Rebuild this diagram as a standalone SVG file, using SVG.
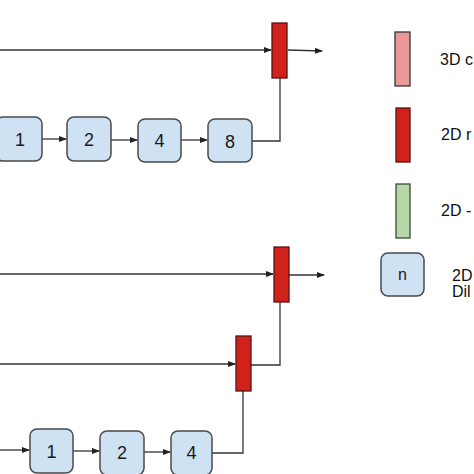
<svg xmlns="http://www.w3.org/2000/svg" width="474" height="474" viewBox="0 0 474 474">
<defs>
<marker id="ah" markerWidth="8" markerHeight="6" refX="7" refY="3" orient="auto" markerUnits="userSpaceOnUse">
<path d="M0,0 L8,3 L0,6 Z" fill="#222"/>
</marker>
<style>
.box{fill:#cfe2f3;stroke:#4a4a4a;stroke-width:1.5}
.red{fill:#d0221a;stroke:#5a1010;stroke-width:1.3}
.pink{fill:#ea9999;stroke:#333;stroke-width:1.3}
.green{fill:#b6d7a8;stroke:#3a4a3a;stroke-width:1.3}
.num{font-family:"Liberation Sans",Arial,sans-serif;font-size:18px;fill:#1a1a1a;text-anchor:middle}
.lbl{font-family:"Liberation Sans",Arial,sans-serif;font-size:16px;fill:#111}
.ln{fill:none;stroke:#333;stroke-width:1.3}
</style>
</defs>
<rect width="474" height="474" fill="#fff"/>
<g id="connectors">
<path class="ln" d="M0,50 L271,50" marker-end="url(#ah)"/>
<path class="ln" d="M288,50 L322,51" marker-end="url(#ah)"/>
<path class="ln" d="M42,139 L66,139" marker-end="url(#ah)"/>
<path class="ln" d="M111,140 L137,140" marker-end="url(#ah)"/>
<path class="ln" d="M181,140 L207,140" marker-end="url(#ah)"/>
<path class="ln" d="M252,141 L280,141 L280,78"/>
<path class="ln" d="M0,274 L273,274" marker-end="url(#ah)"/>
<path class="ln" d="M289,275 L324,275" marker-end="url(#ah)"/>
<path class="ln" d="M0,364 L235,364" marker-end="url(#ah)"/>
<path class="ln" d="M251,365 L280,365 L280,302"/>
<path class="ln" d="M0,450 L29,450" marker-end="url(#ah)"/>
<path class="ln" d="M73,451 L99,451" marker-end="url(#ah)"/>
<path class="ln" d="M144,452 L170,452" marker-end="url(#ah)"/>
<path class="ln" d="M212,453 L243,453 L243,391"/>
</g>
<g id="top-concat"><rect class="red" x="272" y="23" width="15" height="55"/></g>
<g id="top-b1"><rect class="box" x="-4" y="117" width="46" height="44" rx="7"/><text class="num" x="20" y="146">1</text></g>
<g id="top-b2"><rect class="box" x="67" y="117" width="44" height="44" rx="7"/><text class="num" x="89" y="146">2</text></g>
<g id="top-b4"><rect class="box" x="138" y="119" width="43" height="43" rx="7"/><text class="num" x="159.5" y="147">4</text></g>
<g id="top-b8"><rect class="box" x="208" y="119" width="44" height="43" rx="7"/><text class="num" x="230" y="148">8</text></g>
<g id="bot-concat1"><rect class="red" x="274" y="247" width="15" height="55"/></g>
<g id="bot-concat2"><rect class="red" x="236" y="336" width="15" height="55"/></g>
<g id="bot-b1"><rect class="box" x="30" y="429" width="43" height="44" rx="7"/><text class="num" x="51.5" y="458">1</text></g>
<g id="bot-b2"><rect class="box" x="100" y="431" width="44" height="44" rx="7"/><text class="num" x="122" y="459">2</text></g>
<g id="bot-b4"><rect class="box" x="171" y="431" width="41" height="44" rx="7"/><text class="num" x="191.5" y="459">4</text></g>
<g id="legend-3d"><rect class="pink" x="395" y="32" width="15" height="54"/><text class="lbl" x="440" y="65">3D c</text></g>
<g id="legend-2d-red"><rect class="red" x="396" y="108" width="14" height="54"/><text class="lbl" x="441" y="140">2D r</text></g>
<g id="legend-2d-green"><rect class="green" x="396" y="184" width="14" height="54"/><text class="lbl" x="441" y="216">2D -</text></g>
<g id="legend-dil"><rect class="box" x="381" y="253" width="43" height="43" rx="7"/><text class="num" x="402.5" y="280" style="font-size:16px">n</text><text class="lbl" x="452" y="281">2D</text><text class="lbl" x="452" y="297">Dil</text></g>
</svg>
